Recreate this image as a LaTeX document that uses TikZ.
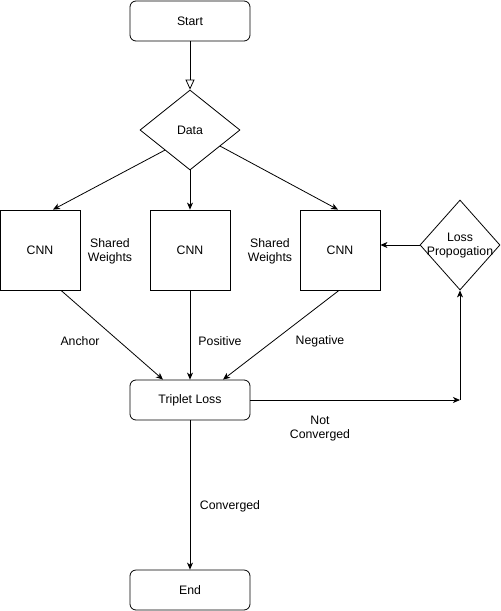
\documentclass[tikz,border=0pt]{standalone}
\usepackage{fontspec}
\setmainfont{Liberation Sans}
\usetikzlibrary{arrows.meta,shapes.geometric,calc}
\begin{document}
\begin{tikzpicture}[x=1pt,y=-1pt,
  every node/.style={font=\fontsize{12.3}{14}\selectfont},
  term/.style={draw,line width=0.8pt,rounded corners=6pt,minimum width=120pt,minimum height=40pt,inner sep=0pt},
  cnnbox/.style={draw,line width=0.8pt,minimum width=80pt,minimum height=80pt,inner sep=0pt},
  dec/.style={draw,line width=0.8pt,diamond,inner sep=0pt},
  lbl/.style={align=center,inner sep=0pt},
  arr/.style={line width=0.8pt,-{Stealth[length=7pt,width=6pt,inset=2pt]}},
  openarr/.style={line width=0.8pt,-{Triangle[open,length=10pt,width=9pt]}}]
\useasboundingbox (0,0) rectangle (501,611);
\node[term] (start) at (190,21) {Start};
\node[dec,minimum width=100pt,minimum height=80pt] (data) at (190,130) {Data};
\node[cnnbox] (c1) at (40,250) {CNN};
\node[cnnbox] (c2) at (190,250) {CNN};
\node[cnnbox] (c3) at (340,250) {CNN};
\node[dec,minimum width=80pt,minimum height=90pt] (lp) at (460,245) {};
\node[lbl] (lpt) at (460,246) {Loss\\Propogation};
\node[term] (tl) at (190,400) {Triplet Loss};
\node[term] (end) at (190,590) {End};
\coordinate (nc) at (460,400);

\node[lbl] (sw1) at (110,251) {Shared\\Weights};
\node[lbl] (sw2) at (270,251) {Shared\\Weights};
\node[lbl] (anc) at (80,341) {Anchor};
\node[lbl] (pos) at (220,341) {Positive};
\node[lbl] (neg) at (320,341) {Negative};
\node[lbl] (ncl) at (320,429) {Not\\Converged};
\node[lbl] (cvl) at (230,506) {Converged};

\draw[openarr] (start.south) -- (data.north);
\draw[arr] ($(data.west)!0.5!(data.south)$) -- ([xshift=13pt]c1.north);
\draw[arr] (data.south) -- (c2.north);
\draw[arr] ($(data.east)!0.4!(data.south)$) -- ([xshift=-2pt]c3.north);
\draw[arr] ([xshift=21pt]c1.south) -- ([xshift=-27pt]tl.north);
\draw[arr] (c2.south) -- (tl.north);
\draw[arr] ([xshift=-1pt]c3.south) -- ([xshift=33pt]tl.north);
\draw[arr] (lp.west) -- (lp.west -| c3.east);
\draw[arr] (tl.east) -- (nc);
\draw[arr] (nc) -- (lp.south);
\draw[arr] (tl.south) -- (end.north);
\end{tikzpicture}
\end{document}
